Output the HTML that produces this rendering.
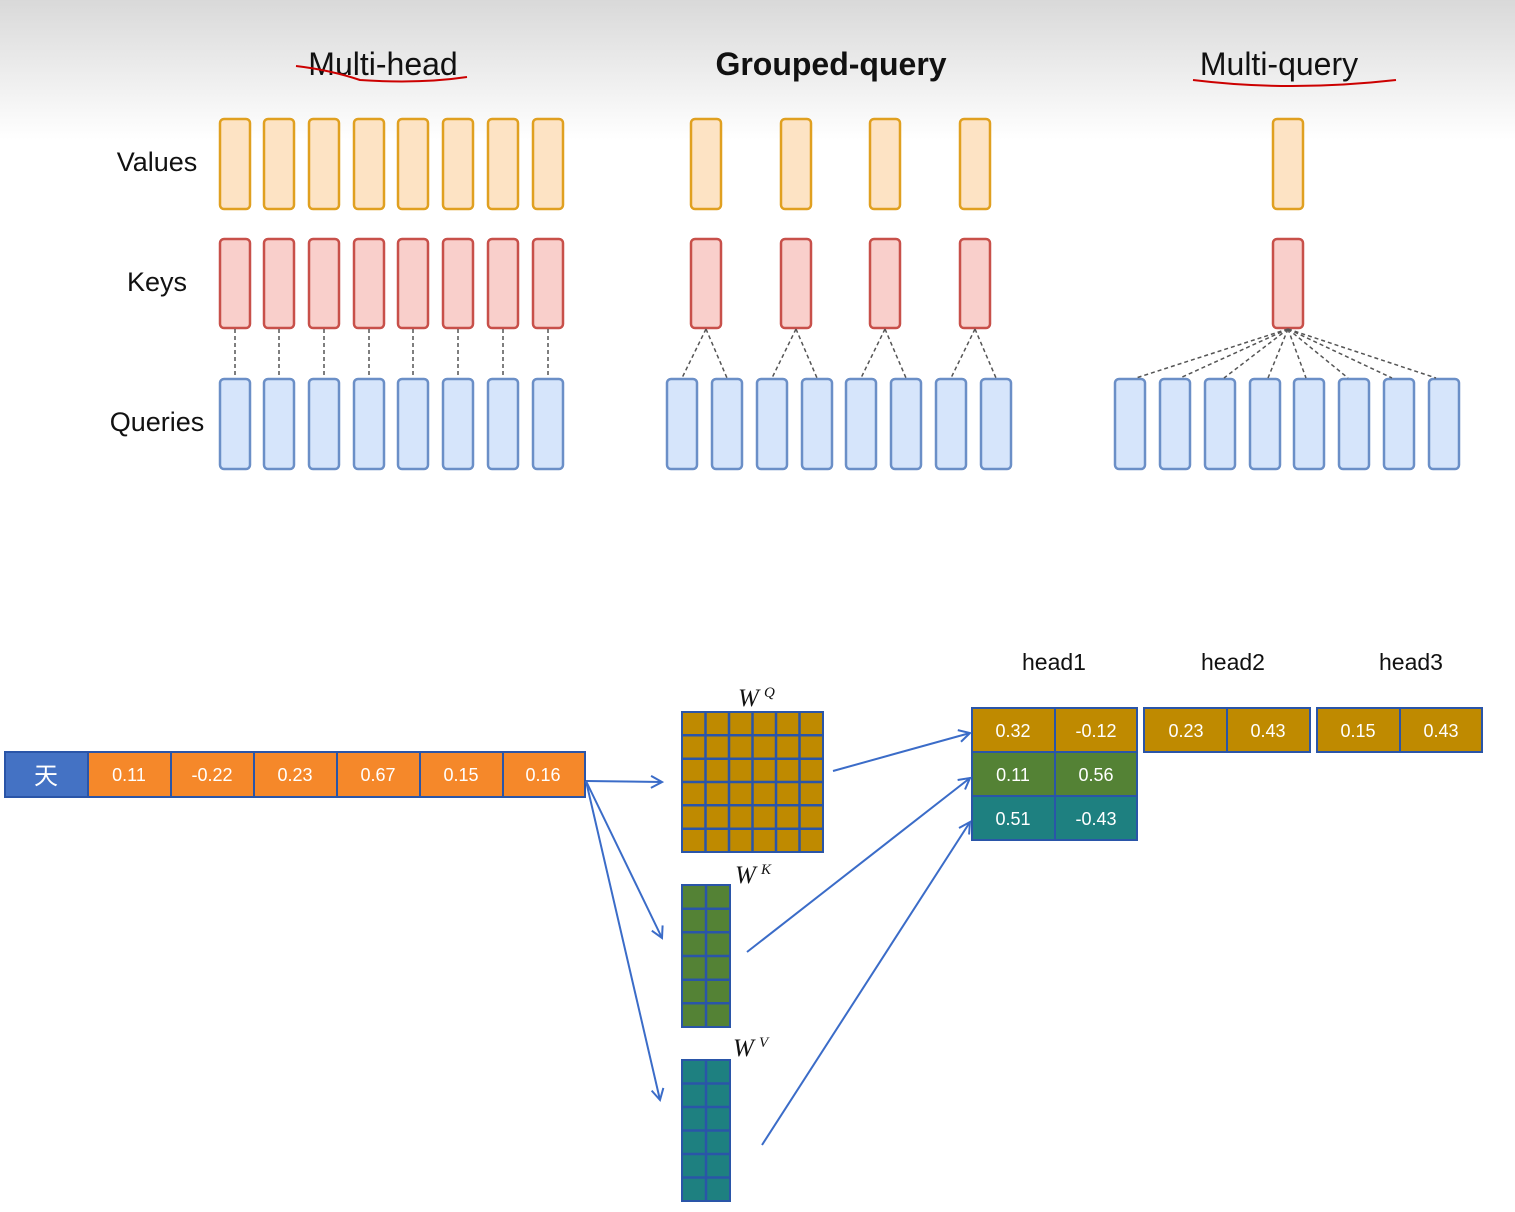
<!DOCTYPE html>
<html><head><meta charset="utf-8"><style>
body{margin:0;background:#fff}
svg{display:block}
text{font-family:"Liberation Sans","Noto Sans CJK SC",sans-serif}
text.w{font-family:"Liberation Serif",serif;font-style:italic}
</style></head><body>
<svg width="1515" height="1212" viewBox="0 0 1515 1212" xmlns="http://www.w3.org/2000/svg">
<defs>
<linearGradient id="bg" x1="0" y1="0" x2="0" y2="1">
<stop offset="0" stop-color="#d9d9d9"/><stop offset="1" stop-color="#ffffff"/>
</linearGradient>
<marker id="ah" markerWidth="14" markerHeight="14" refX="12" refY="7" orient="auto" markerUnits="userSpaceOnUse">
<path d="M1,1 L12,7 L1,13" fill="none" stroke="#3b6cc8" stroke-width="2"/>
</marker>
</defs>
<rect x="0" y="0" width="1515" height="140" fill="url(#bg)"/>
<text x="383" y="75" font-size="32" text-anchor="middle" fill="#111">Multi-head</text>
<path d="M296,66 Q330,70 360,80 Q420,84 467,77" fill="none" stroke="#c00" stroke-width="2"/>
<text x="831" y="75" font-size="32" font-weight="bold" text-anchor="middle" fill="#111">Grouped-query</text>
<text x="1279" y="75" font-size="32" text-anchor="middle" fill="#111">Multi-query</text>
<path d="M1193,80 Q1290,92 1396,80" fill="none" stroke="#c00" stroke-width="2"/>
<text x="157" y="171" font-size="27" text-anchor="middle" fill="#111">Values</text>
<text x="157" y="291" font-size="27" text-anchor="middle" fill="#111">Keys</text>
<text x="157" y="431" font-size="27" text-anchor="middle" fill="#111">Queries</text>
<g>
<g fill="#fde3c4" stroke="#e0a020" stroke-width="2.5">
<rect x="220" y="119" width="30" height="90" rx="4"/><rect x="264" y="119" width="30" height="90" rx="4"/><rect x="309" y="119" width="30" height="90" rx="4"/><rect x="354" y="119" width="30" height="90" rx="4"/><rect x="398" y="119" width="30" height="90" rx="4"/><rect x="443" y="119" width="30" height="90" rx="4"/><rect x="488" y="119" width="30" height="90" rx="4"/><rect x="533" y="119" width="30" height="90" rx="4"/>
<rect x="691" y="119" width="30" height="90" rx="4"/><rect x="781" y="119" width="30" height="90" rx="4"/><rect x="870" y="119" width="30" height="90" rx="4"/><rect x="960" y="119" width="30" height="90" rx="4"/>
<rect x="1273" y="119" width="30" height="90" rx="4"/>
</g>
<g fill="#f9cfcb" stroke="#c8504a" stroke-width="2.5">
<rect x="220" y="239" width="30" height="89" rx="4"/><rect x="264" y="239" width="30" height="89" rx="4"/><rect x="309" y="239" width="30" height="89" rx="4"/><rect x="354" y="239" width="30" height="89" rx="4"/><rect x="398" y="239" width="30" height="89" rx="4"/><rect x="443" y="239" width="30" height="89" rx="4"/><rect x="488" y="239" width="30" height="89" rx="4"/><rect x="533" y="239" width="30" height="89" rx="4"/>
<rect x="691" y="239" width="30" height="89" rx="4"/><rect x="781" y="239" width="30" height="89" rx="4"/><rect x="870" y="239" width="30" height="89" rx="4"/><rect x="960" y="239" width="30" height="89" rx="4"/>
<rect x="1273" y="239" width="30" height="89" rx="4"/>
</g>
<g fill="#d6e5fb" stroke="#6b8fc7" stroke-width="2.5">
<rect x="220" y="379" width="30" height="90" rx="4"/><rect x="264" y="379" width="30" height="90" rx="4"/><rect x="309" y="379" width="30" height="90" rx="4"/><rect x="354" y="379" width="30" height="90" rx="4"/><rect x="398" y="379" width="30" height="90" rx="4"/><rect x="443" y="379" width="30" height="90" rx="4"/><rect x="488" y="379" width="30" height="90" rx="4"/><rect x="533" y="379" width="30" height="90" rx="4"/>
<rect x="667" y="379" width="30" height="90" rx="4"/><rect x="712" y="379" width="30" height="90" rx="4"/><rect x="757" y="379" width="30" height="90" rx="4"/><rect x="802" y="379" width="30" height="90" rx="4"/><rect x="846" y="379" width="30" height="90" rx="4"/><rect x="891" y="379" width="30" height="90" rx="4"/><rect x="936" y="379" width="30" height="90" rx="4"/><rect x="981" y="379" width="30" height="90" rx="4"/>
<rect x="1115" y="379" width="30" height="90" rx="4"/><rect x="1160" y="379" width="30" height="90" rx="4"/><rect x="1205" y="379" width="30" height="90" rx="4"/><rect x="1250" y="379" width="30" height="90" rx="4"/><rect x="1294" y="379" width="30" height="90" rx="4"/><rect x="1339" y="379" width="30" height="90" rx="4"/><rect x="1384" y="379" width="30" height="90" rx="4"/><rect x="1429" y="379" width="30" height="90" rx="4"/>
</g>
<g stroke="#555" stroke-width="1.5" stroke-dasharray="4,3" fill="none">
<path d="M235,329V378M279,329V378M324,329V378M369,329V378M413,329V378M458,329V378M503,329V378M548,329V378"/>
<path d="M706,329L682,378M706,329L727,378M796,329L772,378M796,329L817,378M885,329L861,378M885,329L906,378M975,329L951,378M975,329L996,378"/>
<path d="M1288,329L1136,378M1288,329L1180,378M1288,329L1224,378M1288,329L1268,378M1288,329L1306,378M1288,329L1348,378M1288,329L1392,378M1288,329L1436,378"/>
</g>
</g>
<g stroke="#2a55a8" stroke-width="2">
<rect x="5" y="752" width="83" height="45" fill="#4472c4"/>
<rect x="88" y="752" width="83" height="45" fill="#f5882a"/><rect x="171" y="752" width="83" height="45" fill="#f5882a"/><rect x="254" y="752" width="83" height="45" fill="#f5882a"/><rect x="337" y="752" width="83" height="45" fill="#f5882a"/><rect x="420" y="752" width="83" height="45" fill="#f5882a"/><rect x="503" y="752" width="82" height="45" fill="#f5882a"/>
</g>
<g fill="#fff" font-size="18" text-anchor="middle">
<text x="46" y="784" font-size="24">天</text>
<text x="129" y="781">0.11</text><text x="212" y="781">-0.22</text><text x="295" y="781">0.23</text><text x="378" y="781">0.67</text><text x="461" y="781">0.15</text><text x="543" y="781">0.16</text>
</g>
<rect x="682" y="712" width="141" height="140" fill="#bf8a00" stroke="#2a55a8" stroke-width="2"/>
<path d="M705.5,712V852M729,712V852M752.5,712V852M776,712V852M799.5,712V852M682,735.3H823M682,758.7H823M682,782H823M682,805.3H823M682,828.7H823" stroke="#2a55a8" stroke-width="2.5"/>
<rect x="682" y="885" width="48" height="142" fill="#548235" stroke="#2a55a8" stroke-width="2"/>
<path d="M706,885V1027M682,908.7H730M682,932.3H730M682,956H730M682,979.7H730M682,1003.3H730" stroke="#2a55a8" stroke-width="2.5"/>
<rect x="682" y="1060" width="48" height="141" fill="#1e8080" stroke="#2a55a8" stroke-width="2"/>
<path d="M706,1060V1201M682,1083.5H730M682,1107H730M682,1130.5H730M682,1154H730M682,1177.5H730" stroke="#2a55a8" stroke-width="2.5"/>
<g font-size="25" fill="#111">
<text class="w" x="738" y="706">W</text><text class="w" x="764" y="697" font-size="15">Q</text>
<text class="w" x="735" y="883">W</text><text class="w" x="761" y="874" font-size="15">K</text>
<text class="w" x="733" y="1056">W</text><text class="w" x="759" y="1047" font-size="15">V</text>
</g>
<g stroke="#2a55a8" stroke-width="2">
<rect x="972" y="708" width="83" height="44" fill="#bf8a00"/><rect x="1055" y="708" width="82" height="44" fill="#bf8a00"/>
<rect x="972" y="752" width="83" height="44" fill="#548235"/><rect x="1055" y="752" width="82" height="44" fill="#548235"/>
<rect x="972" y="796" width="83" height="44" fill="#1e8080"/><rect x="1055" y="796" width="82" height="44" fill="#1e8080"/>
<rect x="1144" y="708" width="83" height="44" fill="#bf8a00"/><rect x="1227" y="708" width="83" height="44" fill="#bf8a00"/>
<rect x="1317" y="708" width="83" height="44" fill="#bf8a00"/><rect x="1400" y="708" width="82" height="44" fill="#bf8a00"/>
</g>
<g fill="#fff" font-size="18" text-anchor="middle">
<text x="1013" y="737">0.32</text><text x="1096" y="737">-0.12</text>
<text x="1013" y="781">0.11</text><text x="1096" y="781">0.56</text>
<text x="1013" y="825">0.51</text><text x="1096" y="825">-0.43</text>
<text x="1186" y="737">0.23</text><text x="1268" y="737">0.43</text>
<text x="1358" y="737">0.15</text><text x="1441" y="737">0.43</text>
</g>
<g fill="#111" font-size="23" text-anchor="middle">
<text x="1054" y="670">head1</text><text x="1233" y="670">head2</text><text x="1411" y="670">head3</text>
</g>
<g stroke="#3b6cc8" stroke-width="2" fill="none" marker-end="url(#ah)">
<path d="M586,781L662,782"/>
<path d="M586,781L662,938"/>
<path d="M586,781L660,1100"/>
<path d="M833,771L970,733"/>
<path d="M747,952L970,778"/>
<path d="M762,1145L970,822"/>
</g>
</svg>
</body></html>
